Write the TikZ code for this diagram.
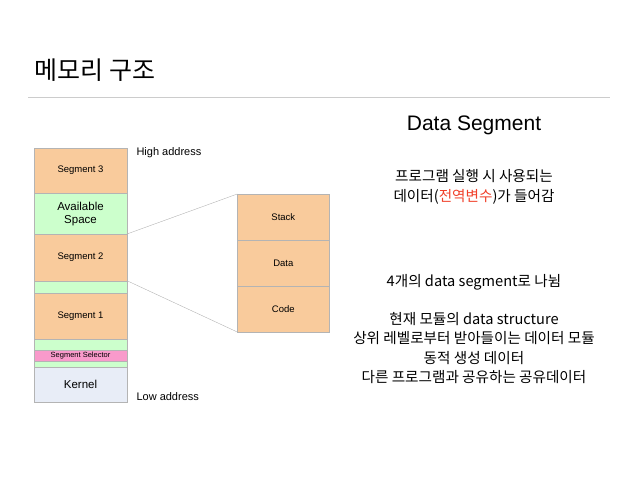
\documentclass[tikz,border=0pt]{standalone}
\usepackage{fontspec}
\setmainfont{Liberation Sans}
\newfontfamily\kr{Noto Sans CJK KR}
\usetikzlibrary{positioning}
\definecolor{segorange}{HTML}{F9CB9C}
\definecolor{seggreen}{HTML}{CCFFCC}
\definecolor{segpink}{HTML}{F99ACB}
\definecolor{segkernel}{HTML}{E8EDF7}
\definecolor{segline}{HTML}{B4B4B4}
\definecolor{accent}{HTML}{F0402A}

\begin{document}
\begin{tikzpicture}[x=1pt,y=-1pt,
    seg/.style={draw=segline, fill=segorange, minimum width=93pt, inner sep=0pt, outer sep=0pt, font=\fontsize{9.5}{11}\selectfont},
    gap/.style={seg, fill=seggreen},
    part/.style={seg, minimum width=92pt, minimum height=46pt},
    addr/.style={anchor=west, font=\fontsize{11}{13}\selectfont},
    note/.style={align=center, font=\kr\fontsize{14.6}{19.3}\selectfont}]
\useasboundingbox (0,0) rectangle (638,479);
% title
\node[anchor=west, font=\kr\fontsize{25}{28}\selectfont] (title) at (31,70) {메모리 구조};
\draw[black!20, line width=1pt] (28,97) -- (610,97);
% memory layout
\node[seg, minimum height=45.6pt] (seg3) at (80.5,170.5) {Segment 3};
\node[gap, minimum height=40.7pt, align=center, font=\fontsize{11.5}{13}\selectfont, below=0pt of seg3] (avail) {Available\\Space};
\node[seg, minimum height=46.7pt, below=0pt of avail] (seg2) {Segment 2};
\node[gap, minimum height=12.6pt, below=0pt of seg2] (gapa) {};
\node[seg, minimum height=46pt, below=0pt of gapa] (seg1) {Segment 1};
\node[gap, minimum height=10.7pt, below=0pt of seg1] (gapb) {};
\node[seg, fill=segpink, minimum height=11.3pt, font=\fontsize{7.5}{8}\selectfont, below=0pt of gapb] (selector) {Segment Selector};
\node[gap, minimum height=6pt, below=0pt of selector] (gapc) {};
\node[seg, fill=segkernel, minimum height=34.4pt, font=\fontsize{11.5}{14}\selectfont, below=0pt of gapc] (kernel) {Kernel};
\node[addr] (high) at (133,152.7) {High address};
\node[addr] (low) at (133,396.7) {Low address};
% segment detail
\node[part] (stack) at (283.3,217) {Stack};
\node[part, below=0pt of stack] (data) {Data};
\node[part, below=0pt of data] (code) {Code};
\draw[segline] (avail.south east) -- (stack.north west);
\draw[segline] (seg2.south east) -- (code.south west);
% description
\node[font=\fontsize{21}{24}\selectfont] (head) at (474,125) {Data Segment};
\node[note] (use) at (474,187) {프로그램 실행 시 사용되는\\데이터({\color{accent}전역변수})가 들어감};
\node[note] (four) at (474,282) {4개의 data segment로 나뉨};
\node[note] (kinds) at (474,348) {현재 모듈의 data structure\\상위 레벨로부터 받아들이는 데이터 모듈\\동적 생성 데이터\\다른 프로그램과 공유하는 공유데이터};
\end{tikzpicture}
\end{document}
